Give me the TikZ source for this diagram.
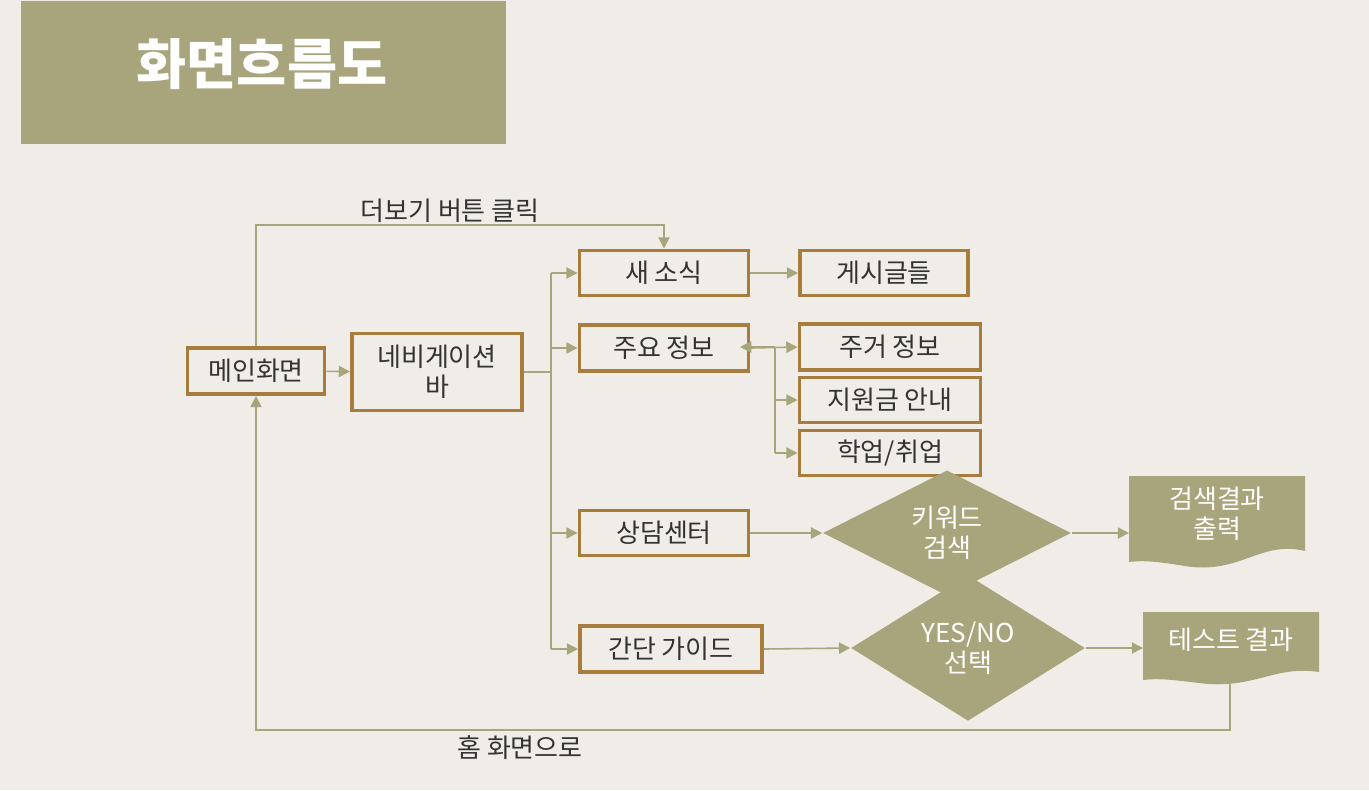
\documentclass[tikz,border=0pt]{standalone}
\usepackage{fontspec}
\setmainfont{Noto Sans CJK KR}
\usetikzlibrary{shapes.geometric,arrows.meta}
\definecolor{bg}{HTML}{F0EDE8}
\definecolor{olive}{HTML}{A8A57C}
\definecolor{brn}{HTML}{A87C3C}
\definecolor{txt}{HTML}{333333}
\begin{document}
\begin{tikzpicture}[x=0.01cm,y=-0.01cm,
 bx/.style={draw=brn,line width=1.1pt,fill=bg,text=txt,font=\fontsize{7.4pt}{8.6pt}\selectfont,align=center,inner sep=0pt},
 dia/.style={diamond,fill=olive,text=white,font=\fontsize{7.4pt}{8.6pt}\selectfont,align=center,inner sep=0pt},
 ln/.style={draw=olive,line width=0.45pt},
 ar/.style={ln,-{Triangle[length=3.2pt,width=3.2pt]}},
 lb/.style={text=txt,font=\fontsize{7.4pt}{8.6pt}\selectfont}]
\fill[bg] (0,0) rectangle (1369,790);
\useasboundingbox (0,0) rectangle (1369,790);
\node[fill=olive,minimum width=485\pgflinewidth,inner sep=0pt,anchor=north west,minimum width=4.85cm,minimum height=1.43cm] (title) at (20,0) {};
\node[text=white,font=\bfseries\fontsize{15.5pt}{18pt}\selectfont] (tt) at (262,64) {화면흐름도};
\node[bx,minimum width=1.37cm,minimum height=0.46cm] (main) at (256,371) {메인화면};
\node[bx,minimum width=1.70cm,minimum height=0.77cm] (nav) at (437,372) {네비게이션\\바};
\node[bx,minimum width=1.69cm,minimum height=0.45cm] (news) at (664,273) {새 소식};
\node[bx,minimum width=1.68cm,minimum height=0.45cm] (posts) at (884,273) {게시글들};
\node[bx,minimum width=1.69cm,minimum height=0.46cm] (info) at (664,348) {주요 정보};
\node[bx,minimum width=1.81cm,minimum height=0.46cm] (house) at (890,347) {주거 정보};
\node[bx,minimum width=1.81cm,minimum height=0.45cm] (fund) at (890,400) {지원금 안내};
\node[bx,minimum width=1.81cm,minimum height=0.45cm] (job) at (890,453) {학업/취업};
\node[bx,minimum width=1.69cm,minimum height=0.45cm] (cons) at (664,533) {상담센터};
\node[bx,minimum width=1.82cm,minimum height=0.46cm] (guide) at (671,649) {간단 가이드};
\node[dia,minimum width=2.48cm,minimum height=0.88cm] (kw) at (947,533) {키워드\\검색};
\node[dia,minimum width=2.34cm,minimum height=1.10cm] (yn) at (968,648) {YES/NO\\선택};
% documents
\fill[olive] (1129,476) -- (1305,476) -- (1305,551) .. controls (1260,540) and (1240,575) .. (1185,566) .. controls (1160,562) and (1145,560) .. (1129,562) -- cycle;
\node[text=white,font=\fontsize{7.4pt}{8.6pt}\selectfont,align=center] (res) at (1217,514) {검색결과\\출력};
\fill[olive] (1143,612) -- (1319,612) -- (1319,672) .. controls (1274,665) and (1254,690) .. (1199,683) .. controls (1174,680) and (1159,678) .. (1143,680) -- cycle;
\node[text=white,font=\fontsize{7.4pt}{8.6pt}\selectfont] (test) at (1231,640) {테스트 결과};
\coordinate (resw) at (1129,533);
\coordinate (testw) at (1143,648);
\coordinate (testb) at (1230,684);
% connectors
\draw[ar] (main.north) |- (450,225) -| (news.north);
\node[lb] (lmore) at (450,211) {더보기 버튼 클릭};
\draw[ar] (main) -- (nav);
\coordinate (bus) at (551,372);
\draw[ln] (nav.east) -- (bus);
\draw[ln] (551,273) -- (551,649);
\draw[ar] (551,273) -- (news.west);
\draw[ar] (551,348) -- (info.west);
\draw[ar] (551,533) -- (cons.west);
\draw[ar] (551,649) -- (guide.west);
\draw[ar] (news) -- (posts);
\coordinate (br) at (775,347);
\draw[ar] (info.east) -- (house.west);
\draw[ar] (br) -- (740,347);
\draw[ln] (br) -- (775,453);
\draw[ar] (775,400) -- (fund.west);
\draw[ar] (775,453) -- (job.west);
\draw[ar] (cons.east) -- (kw.west);
\draw[ar] (kw.east) -- (resw);
\draw[ar] (guide.east) -- (yn.west);
\draw[ar] (yn.east) -- (testw);
\draw[ar] (testb) |- (700,730) -| (main.south);
\node[lb] (lhome) at (520,748) {홈 화면으로};
\end{tikzpicture}
\end{document}
